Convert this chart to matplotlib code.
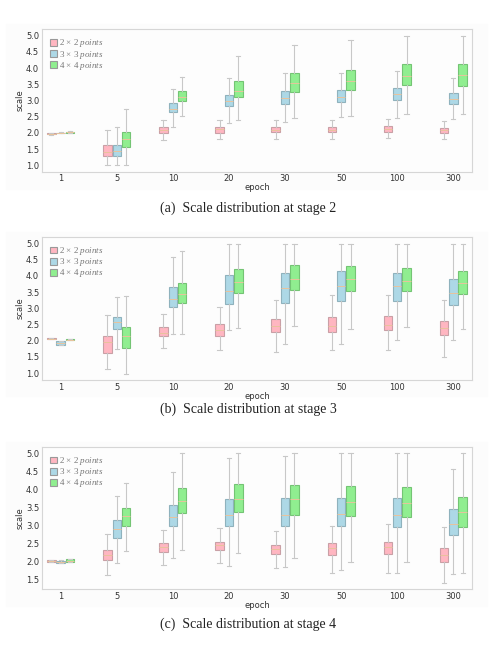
import matplotlib
matplotlib.use("Agg")
import matplotlib.pyplot as plt
from matplotlib.patches import Patch, Rectangle
import numpy as np

plt.rcParams["mathtext.fontset"] = "custom"
plt.rcParams["mathtext.rm"] = "Liberation Serif"
plt.rcParams["mathtext.it"] = "Liberation Serif:italic"

epochs = ["1", "5", "10", "20", "30", "50", "100", "300"]
series_labels = [r"2 $\times$ 2 $\it{points}$", r"3 $\times$ 3 $\it{points}$",
                 r"4 $\times$ 4 $\it{points}$"]
captions = ["(a)  Scale distribution at stage 2",
            "(b)  Scale distribution at stage 3",
            "(c)  Scale distribution at stage 4"]

# (whisker low, q1, median, q3, whisker high) per epoch
s2_p2 = [(1.94, 1.95, 1.97, 1.99, 2.00), (1.00, 1.30, 1.42, 1.61, 2.10),
         (1.77, 2.00, 2.08, 2.17, 2.41), (1.80, 2.01, 2.11, 2.17, 2.41),
         (1.80, 2.02, 2.10, 2.17, 2.39), (1.80, 2.02, 2.10, 2.18, 2.41),
         (1.83, 2.04, 2.13, 2.20, 2.44), (1.80, 2.00, 2.08, 2.16, 2.36)]
s2_p3 = [(1.99, 2.00, 2.00, 2.01, 2.02), (1.00, 1.27, 1.44, 1.64, 2.19),
         (2.19, 2.63, 2.75, 2.93, 3.36), (2.30, 2.84, 3.00, 3.18, 3.70),
         (2.35, 2.89, 3.07, 3.28, 3.85), (2.49, 2.95, 3.12, 3.32, 3.85),
         (2.47, 3.02, 3.19, 3.39, 3.92), (2.44, 2.90, 3.06, 3.23, 3.70)]
s2_p4 = [(1.99, 2.00, 2.02, 2.04, 2.05), (1.00, 1.57, 1.81, 2.04, 2.75),
         (2.53, 2.97, 3.10, 3.28, 3.73), (2.41, 3.10, 3.30, 3.61, 4.36),
         (2.47, 3.27, 3.53, 3.85, 4.71), (2.53, 3.33, 3.59, 3.95, 4.87),
         (2.57, 3.49, 3.77, 4.14, 5.00), (2.57, 3.46, 3.79, 4.14, 5.00)]

s3_p2 = [(2.04, 2.05, 2.06, 2.07, 2.07), (1.14, 1.62, 1.97, 2.16, 2.79),
         (1.77, 2.16, 2.25, 2.42, 2.82), (1.70, 2.16, 2.34, 2.52, 3.05),
         (1.66, 2.28, 2.45, 2.66, 3.26), (1.70, 2.28, 2.46, 2.74, 3.41),
         (1.70, 2.32, 2.49, 2.77, 3.41), (1.51, 2.18, 2.40, 2.62, 3.26)]
s3_p3 = [(1.86, 1.87, 1.92, 1.98, 1.99), (1.76, 2.36, 2.59, 2.74, 3.34),
         (2.22, 3.05, 3.29, 3.66, 4.58), (2.34, 3.14, 3.55, 4.03, 5.00),
         (1.91, 3.17, 3.63, 4.09, 5.00), (1.91, 3.22, 3.69, 4.15, 5.00),
         (2.03, 3.22, 3.69, 4.09, 5.00), (2.03, 3.09, 3.48, 3.91, 4.97)]
s3_p4 = [(2.02, 2.02, 2.03, 2.04, 2.04), (0.99, 1.79, 2.15, 2.42, 3.38),
         (2.22, 3.16, 3.45, 3.79, 4.76), (2.40, 3.48, 3.81, 4.21, 5.00),
         (2.46, 3.58, 3.91, 4.34, 5.00), (2.37, 3.54, 3.91, 4.31, 5.00),
         (2.43, 3.54, 3.85, 4.25, 5.00), (2.37, 3.45, 3.79, 4.15, 5.00)]

s4_p2 = [(1.97, 1.98, 2.00, 2.04, 2.05), (1.61, 2.03, 2.18, 2.32, 2.75),
         (1.90, 2.26, 2.40, 2.50, 2.86), (1.94, 2.31, 2.46, 2.54, 2.92),
         (1.82, 2.20, 2.34, 2.45, 2.84), (1.68, 2.18, 2.37, 2.50, 2.97),
         (1.68, 2.20, 2.40, 2.53, 3.03), (1.41, 1.98, 2.18, 2.38, 2.96)]
s4_p3 = [(1.94, 1.95, 1.98, 2.02, 2.03), (1.96, 2.65, 2.90, 3.14, 3.83),
         (2.10, 2.97, 3.22, 3.58, 4.48), (1.86, 2.98, 3.28, 3.74, 4.88),
         (1.85, 2.98, 3.30, 3.77, 4.93), (1.76, 2.97, 3.31, 3.77, 5.00),
         (1.68, 2.95, 3.30, 3.77, 5.00), (1.64, 2.73, 3.03, 3.46, 4.56)]
s4_p4 = [(1.97, 1.98, 2.02, 2.06, 2.07), (2.30, 2.99, 3.25, 3.47, 4.18),
         (2.32, 3.35, 3.69, 4.05, 5.00), (2.22, 3.36, 3.72, 4.16, 5.00),
         (2.10, 3.30, 3.72, 4.13, 5.00), (1.98, 3.25, 3.66, 4.10, 5.00),
         (1.98, 3.22, 3.63, 4.07, 5.00), (1.68, 2.95, 3.37, 3.79, 5.00)]

stages = [[s2_p2, s2_p3, s2_p4], [s3_p2, s3_p3, s3_p4], [s4_p2, s4_p3, s4_p4]]
colors = ["#ffb6c1", "#add8e6", "#90ee90"]
edges = ["#c9a0a6", "#8fb2bd", "#74c474"]

W, H = 496, 647
fig = plt.figure(figsize=(W / 100, H / 100), dpi=100)
fig.patch.set_facecolor("white")

# pixel boxes: (top, bottom) of axes, caption y, background
ax_tb = [(29.3, 171.7), (237, 380), (447, 589)]
cap_y = [208, 409, 624]
bg_tb = [(24, 189), (232, 396), (442, 606)]

for k, stage in enumerate(stages):
    top, bot = ax_tb[k]
    fig.patches.append(Rectangle((6 / W, 1 - bg_tb[k][1] / H), 481 / W,
                                 (bg_tb[k][1] - bg_tb[k][0]) / H,
                                 transform=fig.transFigure, color="#fcfcfc",
                                 zorder=-5))
    ax = fig.add_axes([42 / W, 1 - bot / H, 430 / W, (bot - top) / H])
    ax.set_zorder(2)
    ax.set_facecolor("#fdfdfd")
    base = np.arange(len(epochs))
    for j, ser in enumerate(stage):
        stats = [dict(whislo=s[0], q1=s[1], med=s[2], q3=s[3], whishi=s[4])
                 for s in ser]
        ax.bxp(stats, positions=base + (j - 1) * 0.167, widths=0.15,
               patch_artist=True, showfliers=False, manage_ticks=False,
               boxprops=dict(facecolor=colors[j], edgecolor=edges[j], lw=0.8),
               whiskerprops=dict(color="#c8c8c8", lw=0.8),
               capprops=dict(color="#c8c8c8", lw=0.8),
               medianprops=dict(color="#e8c39c", lw=0.7))
    ax.set_xlim(-0.333, 7.333)
    ax.set_xticks(base)
    ax.set_xticklabels(epochs)
    ax.set_yticks(np.arange(1.0 if k < 2 else 1.5, 5.01, 0.5))
    ax.autoscale(axis="y")
    ax.margins(y=0.05)
    ax.tick_params(length=0, labelsize=6, pad=2, colors="#333333")
    for sp in ax.spines.values():
        sp.set_color("#d6d6d6")
        sp.set_linewidth(0.8)
    ax.set_xlabel("epoch", fontsize=6, labelpad=0, color="#333333")
    ax.set_ylabel("scale", fontsize=6, labelpad=1, color="#333333")
    handles = [Patch(facecolor=c, edgecolor="#999999", lw=0.8) for c in colors]
    leg = ax.legend(handles, series_labels, loc="upper left", frameon=False,
                    handlelength=0.8, handleheight=0.8, handletextpad=0.2,
                    labelspacing=-0.1, borderaxespad=0.5,
                    prop=dict(family="Liberation Serif", size=6.5))
    for t in leg.get_texts():
        t.set_color("#777777")
    fig.text(0.5, 1 - cap_y[k] / H, captions[k], ha="center", va="center",
             family="Liberation Serif", fontsize=10, color="#222222")

fig.savefig("out.png", dpi=100)
